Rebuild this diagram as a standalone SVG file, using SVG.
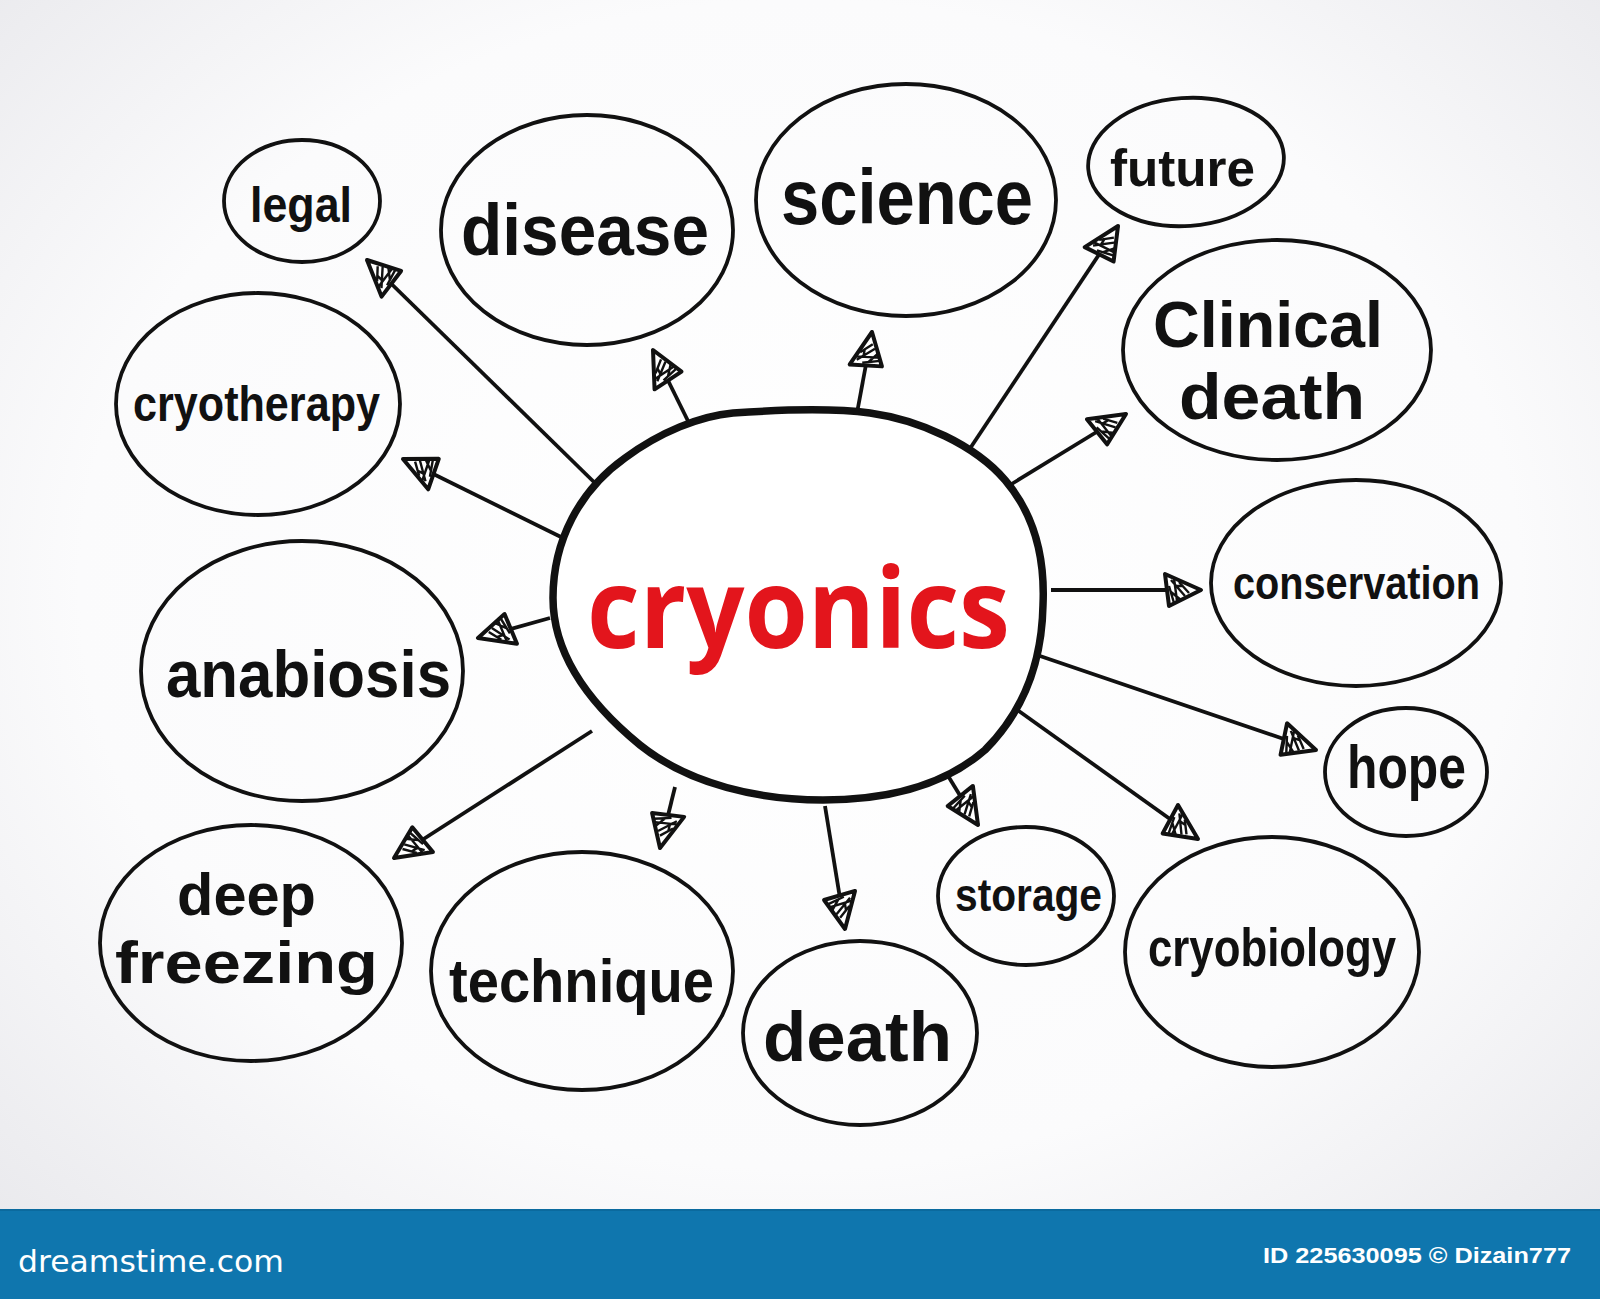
<svg xmlns="http://www.w3.org/2000/svg" width="1600" height="1299" viewBox="0 0 1600 1299">
<defs>
<radialGradient id="bg" cx="50%" cy="45%" r="75%">
<stop offset="0" stop-color="#ffffff"/>
<stop offset="0.6" stop-color="#fbfbfc"/>
<stop offset="1" stop-color="#e6e6ea"/>
</radialGradient>
<marker id="ah" markerUnits="userSpaceOnUse" markerWidth="48" markerHeight="44" viewBox="-40 -22 44 44" refX="0" refY="0" orient="auto">
<path d="M0,0 L-36,-16 L-32,16 Z" fill="#fff" stroke="#111" stroke-width="4" stroke-linejoin="round"/>
<path d="M-30,-10 L-16,6 M-27,-12 L-24,11 M-32,-4 L-27,13 M-22,-8 L-12,3 M-30,2 L-20,10 M-25,-4 L-18,-4" stroke="#111" stroke-width="2.4" fill="none"/>
</marker>
<style>
.node ellipse{fill:none;stroke:#111;stroke-width:3.8}
.lbl{font-family:"Liberation Sans",Arimo,sans-serif;font-weight:700;fill:#111}
.conn line{stroke:#111;stroke-width:3.8;marker-end:url(#ah)}
</style>
</defs>
<rect x="0" y="0" width="1600" height="1299" fill="url(#bg)"/>
<g id="connectors" class="conn">
<line x1="597" y1="485" x2="367" y2="260"/>
<line x1="689" y1="423" x2="653" y2="350"/>
<line x1="857" y1="413" x2="872" y2="332"/>
<line x1="969" y1="450" x2="1118" y2="226"/>
<line x1="1010" y1="485" x2="1126" y2="414"/>
<line x1="563" y1="538" x2="403" y2="459"/>
<line x1="1051" y1="590" x2="1201" y2="590"/>
<line x1="550" y1="618" x2="478" y2="638"/>
<line x1="1040" y1="656" x2="1316" y2="750"/>
<line x1="1016" y1="709" x2="1198" y2="839"/>
<line x1="942" y1="766" x2="978" y2="825"/>
<line x1="592" y1="731" x2="394" y2="858"/>
<line x1="675" y1="787" x2="660" y2="848"/>
<line x1="825" y1="806" x2="845" y2="929"/>
</g>
<g id="center">
<path d="M733 413 C790 409,840 409,870 413 C920 420,975 445,1005 480 C1035 515,1045 560,1043 605 C1042 660,1025 710,985 750 C945 785,890 800,823 800 C760 800,690 785,640 745 C585 700,553 650,553 598 C553 540,580 490,625 458 C660 432,700 416,733 413 Z" fill="#fff" stroke="#111" stroke-width="7.5"/>
<text x="587" y="648" font-family="'Open Sans','Liberation Sans',sans-serif" font-weight="700" font-size="112" fill="#e3151c" textLength="423" lengthAdjust="spacingAndGlyphs">cryonics</text>
</g>
<g id="n-legal" class="node"><ellipse cx="302" cy="201" rx="78" ry="61"/><text class="lbl" x="250" y="222" font-size="50" textLength="102" lengthAdjust="spacingAndGlyphs">legal</text></g>
<g id="n-disease" class="node"><ellipse cx="587" cy="230" rx="146" ry="115"/><text class="lbl" x="461" y="255" font-size="72" textLength="248" lengthAdjust="spacingAndGlyphs">disease</text></g>
<g id="n-science" class="node"><ellipse cx="906" cy="200" rx="150" ry="116"/><text class="lbl" x="781" y="224" font-size="78" textLength="252" lengthAdjust="spacingAndGlyphs">science</text></g>
<g id="n-future" class="node"><ellipse cx="1186" cy="162" rx="98" ry="64" transform="rotate(-4 1186 162)"/><text class="lbl" x="1110" y="186" font-size="52" textLength="145" lengthAdjust="spacingAndGlyphs">future</text></g>
<g id="n-clinical" class="node"><ellipse cx="1277" cy="350" rx="154" ry="110"/><text class="lbl" x="1153" y="347" font-size="64" textLength="230" lengthAdjust="spacingAndGlyphs">Clinical</text><text class="lbl" x="1179" y="419" font-size="64" textLength="186" lengthAdjust="spacingAndGlyphs">death</text></g>
<g id="n-cryotherapy" class="node"><ellipse cx="258" cy="404" rx="142" ry="111"/><text class="lbl" x="133" y="421" font-size="50" textLength="247" lengthAdjust="spacingAndGlyphs">cryotherapy</text></g>
<g id="n-conservation" class="node"><ellipse cx="1356" cy="583" rx="145" ry="103"/><text class="lbl" x="1233" y="599" font-size="46" textLength="247" lengthAdjust="spacingAndGlyphs">conservation</text></g>
<g id="n-anabiosis" class="node"><ellipse cx="302" cy="671" rx="161" ry="130"/><text class="lbl" x="166" y="697" font-size="66" textLength="285" lengthAdjust="spacingAndGlyphs">anabiosis</text></g>
<g id="n-hope" class="node"><ellipse cx="1406" cy="772" rx="81" ry="64"/><text class="lbl" x="1347" y="788" font-size="62" textLength="119" lengthAdjust="spacingAndGlyphs">hope</text></g>
<g id="n-deepfreezing" class="node"><ellipse cx="251" cy="943" rx="151" ry="118"/><text class="lbl" x="177" y="915" font-size="60" textLength="139" lengthAdjust="spacingAndGlyphs">deep</text><text class="lbl" x="115" y="983" font-size="60" textLength="263" lengthAdjust="spacingAndGlyphs">freezing</text></g>
<g id="n-technique" class="node"><ellipse cx="582" cy="971" rx="151" ry="119"/><text class="lbl" x="449" y="1002" font-size="62" textLength="265" lengthAdjust="spacingAndGlyphs">technique</text></g>
<g id="n-death" class="node"><ellipse cx="860" cy="1033" rx="117" ry="92"/><text class="lbl" x="763" y="1061" font-size="70" textLength="189" lengthAdjust="spacingAndGlyphs">death</text></g>
<g id="n-storage" class="node"><ellipse cx="1026" cy="896" rx="88" ry="69"/><text class="lbl" x="955" y="911" font-size="46" textLength="147" lengthAdjust="spacingAndGlyphs">storage</text></g>
<g id="n-cryobiology" class="node"><ellipse cx="1272" cy="952" rx="147" ry="115"/><text class="lbl" x="1148" y="966" font-size="54" textLength="248" lengthAdjust="spacingAndGlyphs">cryobiology</text></g>
<g id="banner">
<rect x="0" y="1209" width="1600" height="90" fill="#0f76ae"/>
<rect x="0" y="1209" width="1600" height="2" fill="#0b6a9e"/>
<text x="18" y="1272" font-family="'DejaVu Sans','Liberation Sans',sans-serif" font-size="30" fill="#fff" textLength="266" lengthAdjust="spacingAndGlyphs">dreamstime.com</text>
<text x="1263" y="1263" font-family="'Liberation Sans Narrow','Liberation Sans',sans-serif" font-weight="700" font-size="22" fill="#fff" textLength="308" lengthAdjust="spacingAndGlyphs">ID 225630095 © Dizain777</text>
</g>
</svg>
